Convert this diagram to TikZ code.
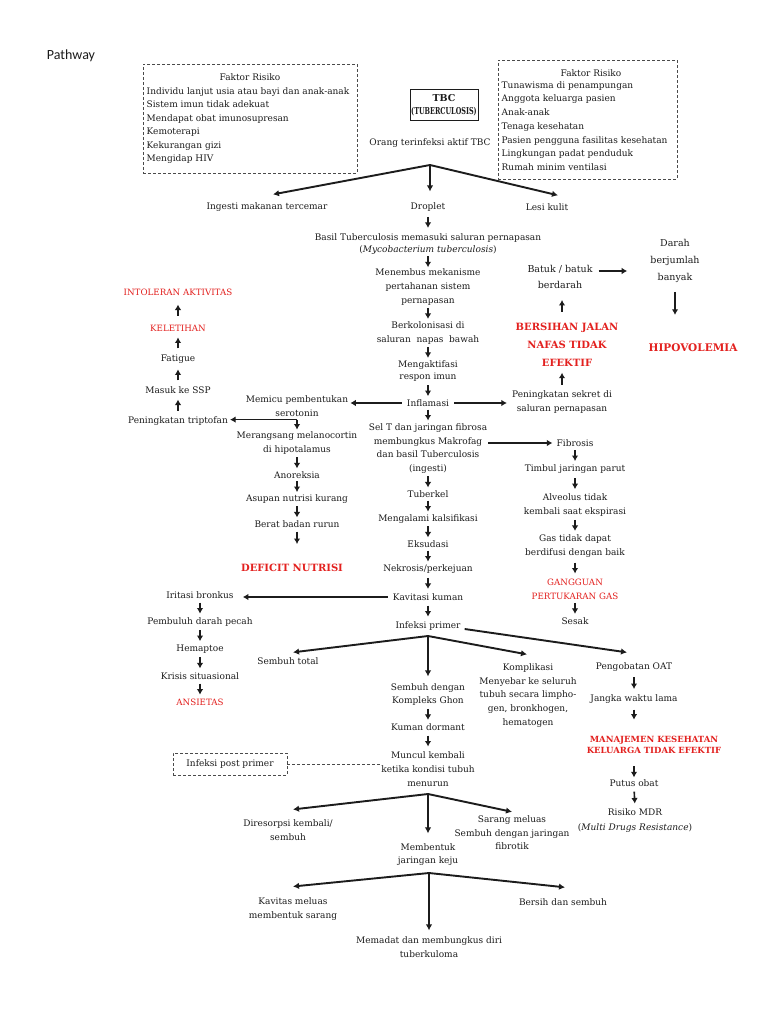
\documentclass[tikz,border=0pt]{standalone}
\usepackage{fontspec}
\setmainfont{DejaVu Serif}
\newfontfamily\pwfont{Carlito}
\usetikzlibrary{arrows.meta,calc}
\definecolor{ink}{HTML}{1C1C1C}
\definecolor{rd}{HTML}{E3211F}
\definecolor{dgray}{HTML}{4A4A4A}
\newcommand\tf{\fontsize{9}{13.8}\selectfont}
\newcommand\sarr[3][5.5]{\path (#2) -- (#3) coordinate[pos=0.5] (mm);\draw[arr] ($(mm)!-#1pt!(#3)$) -- ($(mm)!#1pt!(#3)$);}
\begin{document}
\begin{tikzpicture}[x=1pt,y=-1pt,
  t/.style={font=\tf, align=center, inner sep=1pt, text=ink},
  rb/.style={t, text=rd, font=\fontsize{10}{18}\selectfont\bfseries},
  rr/.style={t, text=rd, font=\fontsize{8.7}{14}\selectfont},
  dbox/.style={draw=dgray, line width=0.8pt, dash pattern=on 3pt off 2pt},
  arr/.style={draw=ink, line width=1.6pt, -{Latex[length=5.5pt,width=6.5pt]}},
  br/.style={draw=ink, line width=1.9pt, -{Latex[length=6pt,width=6.5pt]}},
]
\fill[white] (0,0) rectangle (768,1024);
\useasboundingbox (0,0) rectangle (768,1024);

% ---------- top ----------
\node[font=\pwfont\fontsize{14}{16}\selectfont, text=ink, inner sep=0] (pw) at (71,56) {Pathway};

\node[dbox, minimum width=214pt, minimum height=109pt] (fr1) at (250,118.5) {};
\node[t] (fr1t) at (250,77.5) {Faktor Risiko};
\node[t, anchor=west, align=left, font=\fontsize{9}{13.5}\selectfont] (fr1l) at (145.5,125.5)
  {Individu lanjut usia atau bayi dan anak-anak\\Sistem imun tidak adekuat\\Mendapat obat imunosupresan\\Kemoterapi\\Kekurangan gizi\\Mengidap HIV};

\node[dbox, minimum width=179pt, minimum height=119pt] (fr2) at (587.5,119.5) {};
\node[t] (fr2t) at (591,73) {Faktor Risiko};
\node[t, anchor=west, align=left, font=\fontsize{9}{13.7}\selectfont] (fr2l) at (500.5,126)
  {Tunawisma di penampungan\\Anggota keluarga pasien\\Anak-anak\\Tenaga kesehatan\\Pasien pengguna fasilitas kesehatan\\Lingkungan padat penduduk\\Rumah minim ventilasi};

\node[draw=ink, line width=0.9pt, minimum width=68pt, minimum height=31pt, align=center,
  font=\fontsize{9.5}{13}\selectfont\bfseries, inner sep=1pt, text=ink] (tbc) at (444,105)
  {TBC\\\scalebox{0.68}[1]{(TUBERCULOSIS)}};

\node[t] (orang) at (430,143) {Orang terinfeksi aktif TBC};
\coordinate (ap1) at (430,165);
\node[t] (ingesti) at (267,207) {Ingesti makanan tercemar};
\node[t] (droplet) at (428,207) {Droplet};
\node[t] (lesi) at (547,207) {Lesi kulit};
\draw[br] (ap1) -- ($(ingesti.north)+(6,-7)$);
\draw[br] (ap1) -- ($(droplet.north)+(2,-10)$);
\draw[br] (ap1) -- ($(lesi.north)+(11,-7)$);

% ---------- main column ----------
\node[t, font=\fontsize{9}{12.5}\selectfont] (basil) at (428,244) {Basil Tuberculosis memasuki saluran pernapasan\\(\textit{Mycobacterium tuberculosis})};
\node[t] (menembus) at (428,287) {Menembus mekanisme\\pertahanan sistem\\pernapasan};
\node[t] (berkol) at (428,333) {Berkolonisasi di\\saluran\ \ napas\ \ bawah};
\node[t, font=\fontsize{9}{12.5}\selectfont] (mengakt) at (428,371) {Mengaktifasi\\respon imun};
\node[t] (infl) at (428,403) {Inflamasi};
\node[t, font=\fontsize{9}{13.7}\selectfont] (selt) at (428,448.5) {Sel T dan jaringan fibrosa\\membungkus Makrofag\\dan basil Tuberculosis\\(ingesti)};
\node[t] (tuberkel) at (428,494) {Tuberkel};
\node[t] (kalsif) at (428,519) {Mengalami kalsifikasi};
\node[t] (eksud) at (428,544) {Eksudasi};
\node[t] (nekro) at (428,569) {Nekrosis/perkejuan};
\node[t] (kavit) at (428,597) {Kavitasi kuman};
\node[t] (infp) at (428,626) {Infeksi primer};
\coordinate (ap2) at (428,636);

\sarr{droplet.south}{basil.north}
\sarr{basil.south}{menembus.north}
\sarr{menembus.south}{berkol.north}
\sarr{berkol.south}{mengakt.north}
\sarr{mengakt.south}{infl.north}
\sarr{infl.south}{selt.north}
\sarr{selt.south}{tuberkel.north}
\sarr{tuberkel.south}{kalsif.north}
\sarr{kalsif.south}{eksud.north}
\sarr{eksud.south}{nekro.north}
\sarr{nekro.south}{kavit.north}
\sarr{kavit.south}{infp.north}

% ---------- right: respiratory ----------
\node[t] (sekret) at (562,402) {Peningkatan sekret di\\saluran pernapasan};
\node[rb] (bersihan) at (567,345) {BERSIHAN JALAN\\NAFAS TIDAK\\EFEKTIF};
\node[t, font=\fontsize{9.5}{16}\selectfont] (batuk) at (560,277) {Batuk / batuk\\berdarah};
\node[t, font=\fontsize{9.5}{17}\selectfont] (darah) at (675,261) {Darah\\berjumlah\\banyak};
\node[rb, font=\fontsize{10.5}{14}\selectfont\bfseries] (hipo) at (693,348) {HIPOVOLEMIA};
\draw[arr, shorten <=4pt, shorten >=4pt] (infl.east) -- (infl.east -| sekret.west);
\sarr[6]{sekret.north}{sekret.north |- bersihan.south}
\sarr[6]{sekret.north |- bersihan.north}{sekret.north |- batuk.south}
\draw[arr] ($(batuk.east)+(5,-6)$) -- ($(darah.west)+(-22,10)$);
\draw[arr] ($(darah.south)+(0,8)$) -- ($(darah.south |- hipo.north)+(0,-28)$);

% ---------- right: gas exchange ----------
\node[t] (fibrosis) at (575,443) {Fibrosis};
\node[t] (timbul) at (575,469) {Timbul jaringan parut};
\node[t] (alveol) at (575,505) {Alveolus tidak\\kembali saat ekspirasi};
\node[t] (gas) at (575,546) {Gas tidak dapat\\berdifusi dengan baik};
\node[rr] (ganggu) at (575,589) {GANGGUAN\\PERTUKARAN GAS};
\node[t] (sesak) at (575,621) {Sesak};
\draw[arr, shorten >=3pt] (selt.east |- fibrosis.west) -- (fibrosis.west);
\sarr{fibrosis.south}{timbul.north}
\sarr{timbul.south}{alveol.north}
\sarr{alveol.south}{gas.north}
\sarr{gas.south}{ganggu.north}
\sarr{ganggu.south}{sesak.north}

% ---------- left: fatigue ----------
\node[rr] (intol) at (178,292) {INTOLERAN AKTIVITAS};
\node[rr] (kelet) at (178,328) {KELETIHAN};
\node[t] (fatigue) at (178,359) {Fatigue};
\node[t] (ssp) at (178,390) {Masuk ke SSP};
\node[t] (tript) at (178,421) {Peningkatan triptofan};
\sarr{tript.north}{ssp.south}
\sarr{ssp.north}{fatigue.south}
\sarr{fatigue.north}{kelet.south}
\sarr{kelet.north}{intol.south}

% ---------- left: nutrition ----------
\node[t] (memicu) at (297,406) {Memicu pembentukan\\serotonin};
\node[t] (meran) at (297,443) {Merangsang melanocortin\\di hipotalamus};
\node[t] (anor) at (297,475) {Anoreksia};
\node[t] (asupan) at (297,499) {Asupan nutrisi kurang};
\node[t] (berat) at (297,524) {Berat badan rurun};
\node[rb] (deficit) at (292,568) {DEFICIT NUTRISI};
\coordinate (sj) at ($(memicu.south)+(0,2)$);
\draw[arr, shorten <=4pt, shorten >=1pt] (infl.west) -- (infl.west -| memicu.east);
\draw[arr, shorten >=1pt] (sj) -- (sj -| tript.east);
\draw[arr, shorten >=1pt] (sj) -- (meran.north);
\sarr{meran.south}{anor.north}
\sarr{anor.south}{asupan.north}
\sarr{asupan.south}{berat.north}
\draw[arr, shorten <=3pt, shorten >=19pt] (berat.south) -- (berat.south |- deficit.north);

% ---------- left: anxiety ----------
\node[t] (iritasi) at (200,595) {Iritasi bronkus};
\node[t] (pembuluh) at (200,622) {Pembuluh darah pecah};
\node[t] (hemap) at (200,649) {Hemaptoe};
\node[t] (krisis) at (200,676) {Krisis situasional};
\node[rr] (ansietas) at (200,702) {ANSIETAS};
\draw[arr, shorten <=4pt, shorten >=8pt] (kavit.west) -- (kavit.west -| iritasi.east);
\sarr{iritasi.south}{pembuluh.north}
\sarr{pembuluh.south}{hemap.north}
\sarr{hemap.south}{krisis.north}
\sarr{krisis.south}{ansietas.north}

% ---------- infeksi primer branches ----------
\node[t] (stotal) at (288,661) {Sembuh total};
\node[t, font=\fontsize{9}{13}\selectfont] (ghon) at (428,694.5) {Sembuh dengan\\Kompleks Ghon};
\node[t, font=\fontsize{9}{13.75}\selectfont] (kompl) at (528,695.5) {Komplikasi\\Menyebar ke seluruh\\tubuh secara limpho-\\gen, bronkhogen,\\hematogen};
\node[t] (oat) at (634,667) {Pengobatan OAT};
\draw[br] (ap2) -- ($(stotal.north)+(5,-4)$);
\draw[br] (ap2) -- ($(ghon.north)+(0,-6)$);
\draw[br] (ap2) -- ($(kompl.north)+(-1,-8)$);
\draw[br] ($(infp.east)+(3,3)$) -- ($(oat.north)+(-7,-9)$);

\node[t] (jangka) at (634,699) {Jangka waktu lama};
\node[t, text=rd, font=\fontsize{8.5}{11}\selectfont\bfseries] (manaj) at (654,744.5) {MANAJEMEN KESEHATAN\\KELUARGA TIDAK EFEKTIF};
\node[t] (putus) at (634,783) {Putus obat};
\node[t, font=\fontsize{9}{15}\selectfont] (risiko) at (635,820.5) {Risiko MDR\\(\textit{Multi Drugs Resistance})};
\sarr[6]{oat.south}{jangka.north}
\draw[arr, shorten <=5pt, shorten >=15pt] (jangka.south) -- (jangka.south |- manaj.north);
\draw[arr, shorten <=12pt, shorten >=1pt] (putus.north |- manaj.south) -- (putus.north);
\sarr[6]{putus.south}{risiko.north}

\node[t] (dormant) at (428,727) {Kuman dormant};
\node[t, font=\fontsize{9}{14}\selectfont] (muncul) at (428,769) {Muncul kembali\\ketika kondisi tubuh\\menurun};
\sarr{ghon.south}{dormant.north}
\sarr{dormant.south}{muncul.north}

\node[dbox, t, minimum width=114pt, minimum height=22pt] (post) at (230,764) {Infeksi post primer};
\draw[dbox] (post.east) -- (post.east -| muncul.west);

% ---------- post primer branches ----------
\coordinate (ap3) at (428,794);
\node[t] (dires) at (288,830) {Diresorpsi kembali/\\sembuh};
\node[t, font=\fontsize{9}{13}\selectfont] (membentuk) at (428,854.5) {Membentuk\\jaringan keju};
\node[t, font=\fontsize{9}{13.5}\selectfont] (sarang) at (512,833) {Sarang meluas\\Sembuh dengan jaringan\\fibrotik};
\draw[br] (ap3) -- ($(dires.north)+(5,-9)$);
\draw[br] (ap3) -- ($(membentuk.north)+(0,-9)$);
\draw[br] (ap3) -- ($(sarang.north)+(0,-3)$);

\coordinate (ap4) at (429,873);
\node[t] (kavitas) at (293,909) {Kavitas meluas\\membentuk sarang};
\node[t] (bersih) at (563,902) {Bersih dan sembuh};
\node[t] (memadat) at (429,947) {Memadat dan membungkus diri\\tuberkuloma};
\draw[br] (ap4) -- ($(kavitas.north)+(0,-10)$);
\draw[br] (ap4) -- ($(bersih.north)+(2,-10)$);
\draw[br] (ap4) -- ($(memadat.north)+(0,-5)$);
\end{tikzpicture}
\end{document}
